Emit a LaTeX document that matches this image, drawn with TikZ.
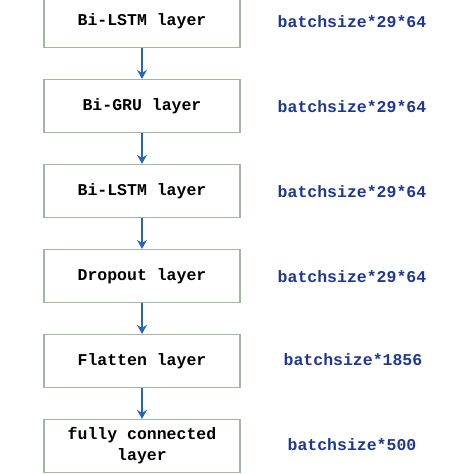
\documentclass[tikz,border=0pt]{standalone}
\usepackage{fontspec}
\setmonofont{Liberation Mono}
\usetikzlibrary{arrows.meta}
\definecolor{boxline}{RGB}{165,180,165}
\definecolor{arrowblue}{RGB}{40,100,185}
\definecolor{labelblue}{RGB}{30,55,150}
\tikzset{
  layerbox/.style={draw=boxline, line width=1.2pt, minimum width=196pt, minimum height=53pt,
    inner sep=0pt, align=center, font=\fontsize{16.5}{21}\selectfont\ttfamily\bfseries, text=black},
  sizelabel/.style={font=\fontsize{16.5}{20}\selectfont\ttfamily\bfseries, text=labelblue, inner sep=0pt},
  flowarrow/.style={draw=arrowblue, line width=1.4pt, -{Stealth[length=9pt,width=10pt,inset=3pt]}}
}
\begin{document}
\begin{tikzpicture}[x=1pt,y=-1pt]
\useasboundingbox (0,0) rectangle (474,474);
\node[layerbox] (b1) at (142,21) {Bi-LSTM layer};
\node[layerbox] (b2) at (142,106) {Bi-GRU layer};
\node[layerbox] (b3) at (142,191) {Bi-LSTM layer};
\node[layerbox] (b4) at (142,276) {Dropout layer};
\node[layerbox] (b5) at (142,361) {Flatten layer};
\node[layerbox] (b6) at (142,446) {fully connected\\layer};
\node[sizelabel] (l1) at (352,22) {batchsize*29*64};
\node[sizelabel] (l2) at (352,107) {batchsize*29*64};
\node[sizelabel] (l3) at (352,192) {batchsize*29*64};
\node[sizelabel] (l4) at (352,277) {batchsize*29*64};
\node[sizelabel] (l5) at (353,360) {batchsize*1856};
\node[sizelabel] (l6) at (352,445) {batchsize*500};
\draw[flowarrow] (b1) -- (b2);
\draw[flowarrow] (b2) -- (b3);
\draw[flowarrow] (b3) -- (b4);
\draw[flowarrow] (b4) -- (b5);
\draw[flowarrow] (b5) -- (b6);
\end{tikzpicture}
\end{document}
